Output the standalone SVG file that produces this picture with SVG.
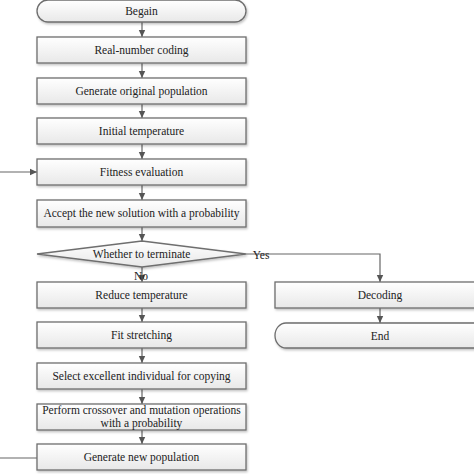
<svg xmlns="http://www.w3.org/2000/svg" width="474" height="474" viewBox="0 0 474 474">
<defs>
<linearGradient id="g" x1="0" y1="0" x2="0" y2="1">
<stop offset="0" stop-color="#ffffff"/>
<stop offset="1" stop-color="#e8e8e8"/>
</linearGradient>
<marker id="ah" markerWidth="8" markerHeight="8" refX="7" refY="4" orient="auto" markerUnits="userSpaceOnUse">
<path d="M0,0.8 L7,4 L0,7.2 Z" fill="#555"/>
</marker>
<filter id="sh" x="-5%" y="-20%" width="110%" height="150%">
<feDropShadow dx="1" dy="1.5" stdDeviation="0.8" flood-color="#000" flood-opacity="0.25"/>
</filter>
</defs>
<style>
.box{fill:url(#g);stroke:#6e6e6e;stroke-width:1.3;filter:url(#sh)}
.t{font-family:"Liberation Serif","Times New Roman",serif;font-size:11.5px;fill:#222;text-anchor:middle}
.c{fill:none;stroke:#666;stroke-width:1.2}
</style>
<rect width="474" height="474" fill="#fff"/>
<g id="connectors">
<path class="c" d="M142,22 V37" marker-end="url(#ah)"/>
<path class="c" d="M142,63 V78" marker-end="url(#ah)"/>
<path class="c" d="M142,104 V118" marker-end="url(#ah)"/>
<path class="c" d="M142,144 V159" marker-end="url(#ah)"/>
<path class="c" d="M142,185 V200" marker-end="url(#ah)"/>
<path class="c" d="M142,227 V241" marker-end="url(#ah)"/>
<path class="c" d="M142,267 V282" marker-end="url(#ah)"/>
<path class="c" d="M142,308 V322" marker-end="url(#ah)"/>
<path class="c" d="M142,348 V363" marker-end="url(#ah)"/>
<path class="c" d="M142,389 V404" marker-end="url(#ah)"/>
<path class="c" d="M142,430 V444" marker-end="url(#ah)"/>
<path class="c" d="M246,254 H380 V282" marker-end="url(#ah)"/>
<path class="c" d="M380,308 V323" marker-end="url(#ah)"/>
<path class="c" d="M37,458 H0"/>
<path class="c" d="M0,172 H37" marker-end="url(#ah)"/>
<text class="t" x="261" y="259">Yes</text>
<text class="t" x="141" y="280">No</text>
</g>
<g id="begin"><rect class="box" x="37" y="0" width="209" height="22" rx="11"/><text class="t" x="141.5" y="15">Begain</text></g>
<g id="coding"><rect class="box" x="37" y="37" width="209" height="26"/><text class="t" x="141.5" y="54">Real-number coding</text></g>
<g id="genorig"><rect class="box" x="37" y="78" width="209" height="26"/><text class="t" x="141.5" y="95">Generate original population</text></g>
<g id="inittemp"><rect class="box" x="37" y="118" width="209" height="26"/><text class="t" x="141.5" y="135">Initial temperature</text></g>
<g id="fitness"><rect class="box" x="37" y="159" width="209" height="26"/><text class="t" x="141.5" y="176">Fitness evaluation</text></g>
<g id="accept"><rect class="box" x="37" y="200" width="209" height="27"/><text class="t" x="141.5" y="217">Accept the new solution with a probability</text></g>
<g id="terminate"><polygon class="box" points="37,254 142,241 246,254 142,267"/><text class="t" x="141.5" y="258">Whether to terminate</text></g>
<g id="reduce"><rect class="box" x="37" y="282" width="209" height="26"/><text class="t" x="141.5" y="299">Reduce temperature</text></g>
<g id="fit"><rect class="box" x="37" y="322" width="209" height="26"/><text class="t" x="141.5" y="339">Fit stretching</text></g>
<g id="select"><rect class="box" x="37" y="363" width="209" height="26"/><text class="t" x="141.5" y="380">Select excellent individual for copying</text></g>
<g id="perform"><rect class="box" x="37" y="404" width="209" height="26"/><text class="t" x="141.5" y="414">Perform crossover and mutation operations</text><text class="t" x="141.5" y="427">with a probability</text></g>
<g id="gennew"><rect class="box" x="37" y="444" width="209" height="26"/><text class="t" x="141.5" y="461">Generate new population</text></g>
<g id="decoding"><rect class="box" x="275" y="282" width="204" height="26"/><text class="t" x="380" y="299">Decoding</text></g>
<g id="end"><path class="box" d="M286,323 H480 V348 H286 A11,12.5 0 0 1 286,323 Z"/><text class="t" x="380" y="340">End</text></g>
</svg>
